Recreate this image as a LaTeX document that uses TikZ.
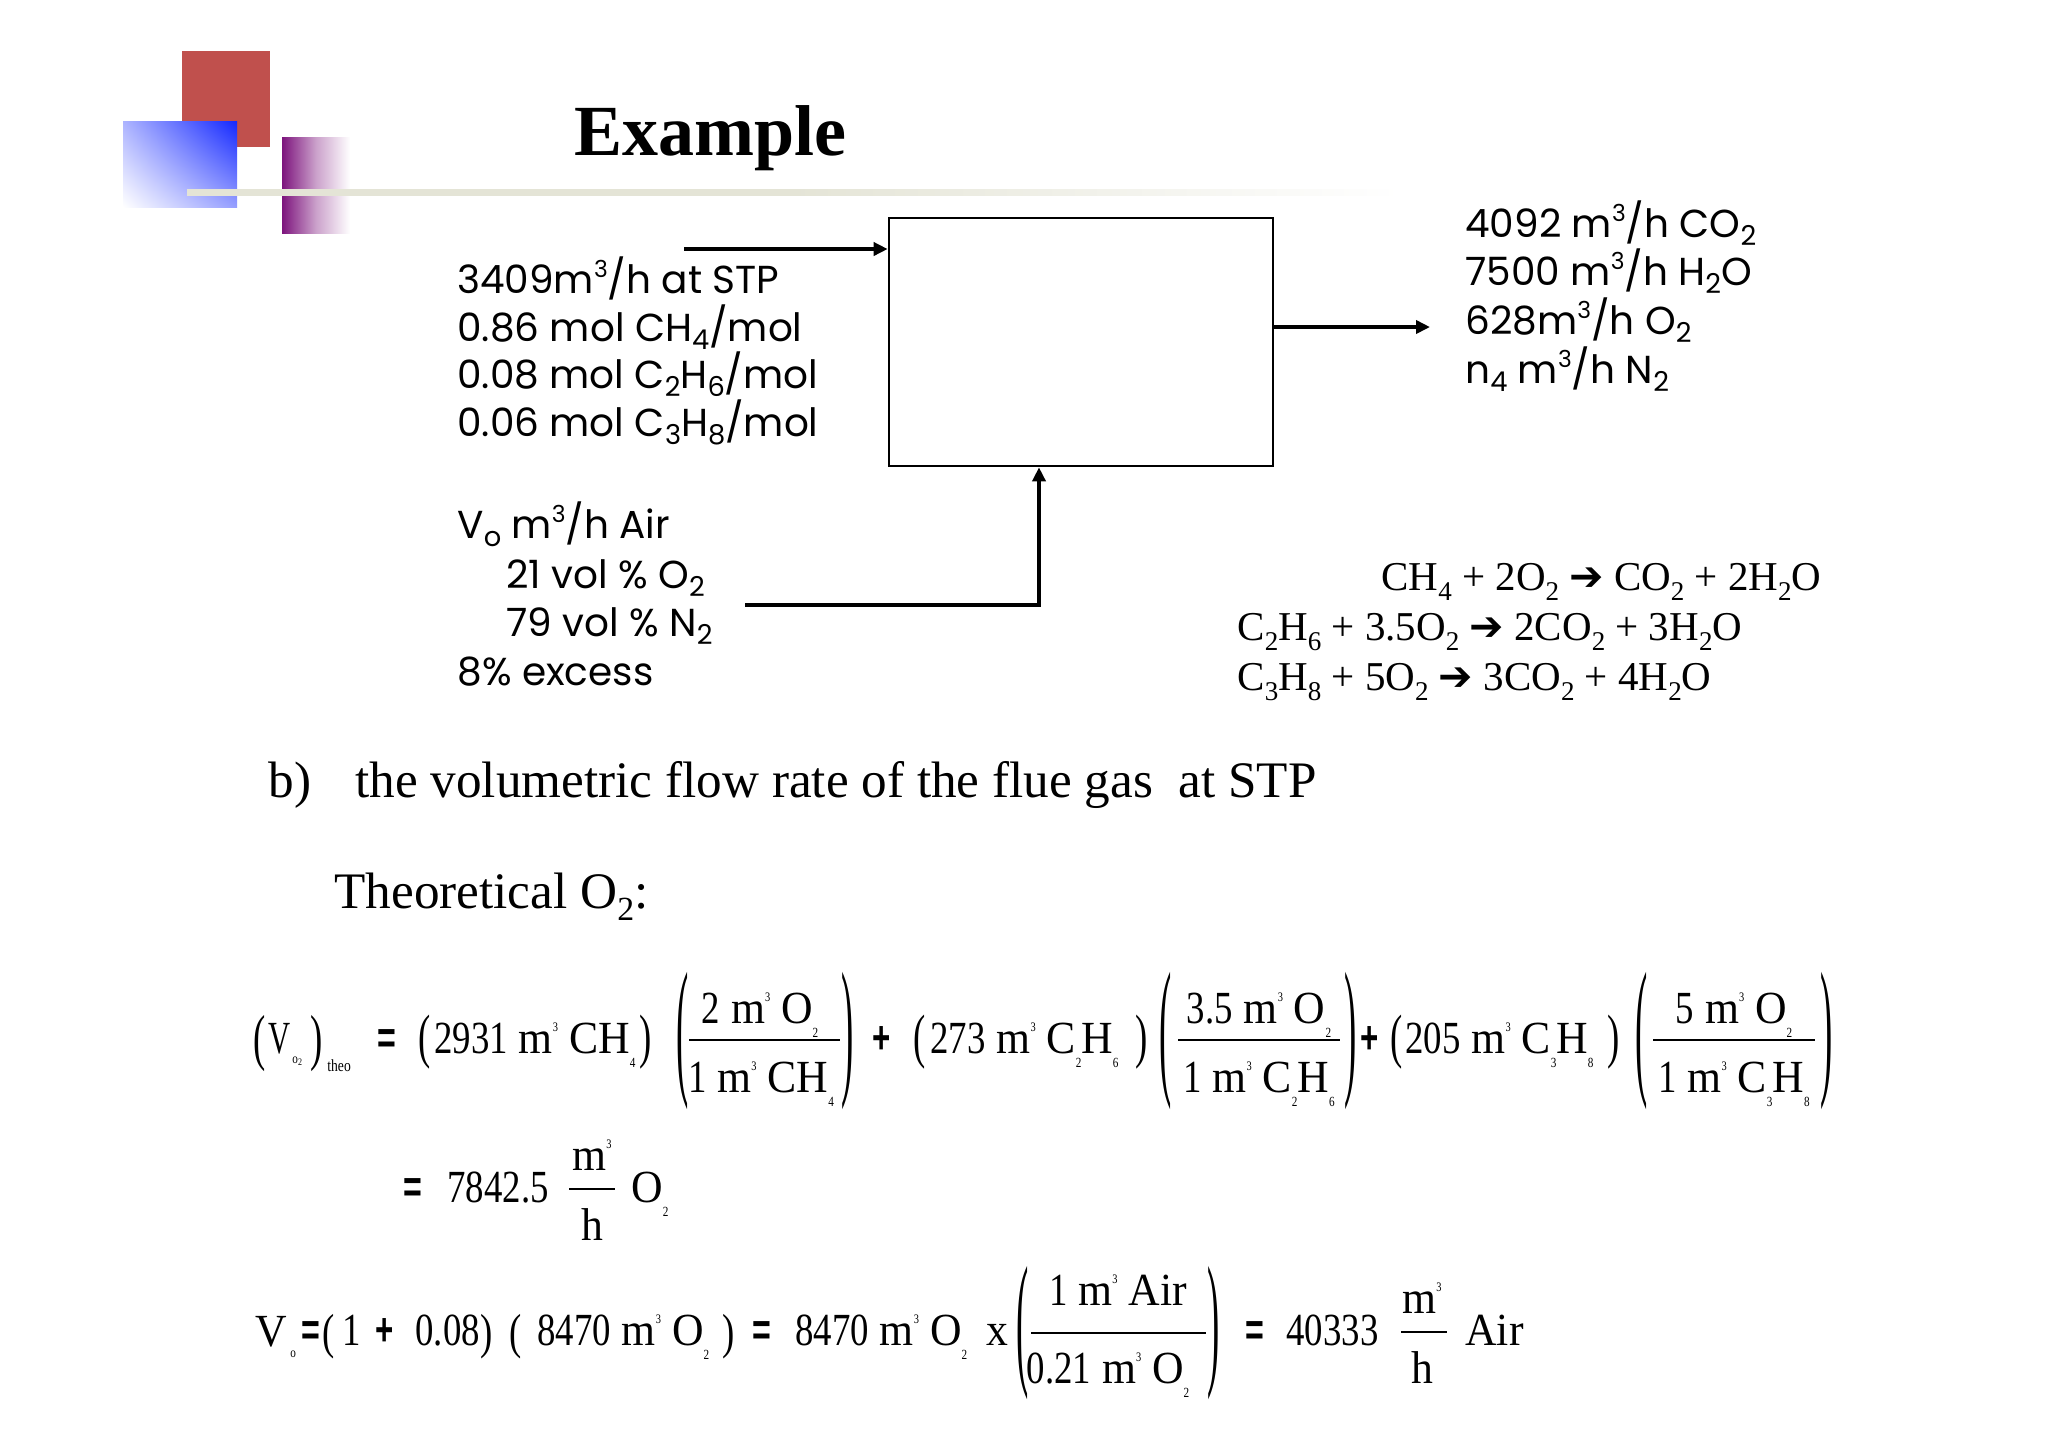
\documentclass[tikz,border=0pt]{standalone}
\usepackage{fontspec}
\usetikzlibrary{arrows.meta,calc,shadings}
\setmainfont{Liberation Serif}
\newfontfamily\comicf{Poppins}
\newfontfamily\eqf[FakeStretch=0.95]{Liberation Serif}
\newfontfamily\eqn[FakeStretch=0.8]{Liberation Serif}
\newfontfamily\symf{Liberation Sans}
\newfontfamily\arwf{DejaVu Sans}
\newcommand\csub[1]{\raisebox{-0.22em}{\scalebox{0.7}{#1}}}
\newcommand\csup[1]{\raisebox{0.4em}{\scalebox{0.6}{#1}}}
\newcommand\rsub[1]{\raisebox{-0.25em}{\scalebox{0.66}{#1}}}
\newcommand\esub[1]{\raisebox{-7pt}{\eqn\fontsize{7}{7}\selectfont #1}}
\newcommand\esup[1]{\raisebox{11pt}{\eqn\fontsize{6.5}{7}\selectfont #1}}
\newcommand\dg[1]{{\eqn #1}}
\newcommand\rarr{{\arwf ➔}}
\newcommand\beq{\scalebox{0.7}[1]{\symf\bfseries =}}
\newcommand\bpl{\scalebox{0.68}[1]{\symf\bfseries +}}
\definecolor{redsq}{RGB}{192,80,77}
\definecolor{bluesq}{RGB}{20,40,255}
\definecolor{purp}{RGB}{125,20,125}
\definecolor{rulec}{RGB}{228,228,214}
\tikzset{
  ctext/.style={anchor=base west, inner sep=0pt, font=\comicf\fontsize{19.5}{22}\selectfont},
  rtext/.style={anchor=base west, inner sep=0pt, font=\fontsize{20.5}{24}\selectfont},
  btext/.style={anchor=base west, inner sep=0pt, font=\fontsize{25.6}{28}\selectfont},
  etext/.style={anchor=base west, inner sep=0pt, font=\eqf\fontsize{23}{26}\selectfont},
  ectr/.style={etext, anchor=base},
  ebold/.style={etext, anchor=base},
  eparen/.style={inner sep=0pt, anchor=center, font=\eqn\fontsize{23}{26}\selectfont},
  fbar/.style={line width=1pt},
  flow/.style={line width=2.2pt, -{Triangle[length=7pt,width=6.5pt]}},
  unitbox/.style={draw, line width=1.3pt, minimum width=192pt, minimum height=124pt, inner sep=0pt}
}
\begin{document}
\begin{tikzpicture}[x=0.5pt, y=-0.5pt]
\useasboundingbox (0,0) rectangle (2048,1448);
\fill[white] (0,0) rectangle (2048,1448);
% decoration
\fill[redsq] (182,51) rectangle (270,147);
\shade[upper right=bluesq, upper left=bluesq!35, lower right=bluesq!45, lower left=white] (123,121) rectangle (237,207);
\shade[left color=purp, right color=white, middle color=purp!40] (282,137) rectangle (350,233);
\shade[left color=rulec, right color=white, middle color=rulec] (187,189) rectangle (1400,195);
% title
\node[anchor=base west, inner sep=0pt, font=\bfseries\fontsize{36}{40}\selectfont] (title) at (574,155) {Example};
% process box
\node[unitbox] (box) at (1081,342) {};
\coordinate (in1) at (684,249);
\coordinate (air) at (745,605);
\coordinate (out) at (1430,327);
\draw[flow] (in1) -- (in1 -| box.west);
\draw[flow] (air) -| ([xshift=-21pt]box.south);
\draw[flow] (box.east |- out) -- (out);
% feed labels
\node[ctext] (f1) at (457,293) {3409m\csup{3}/h at STP};
\node[ctext] (f2) at (457,341) {0.86 mol CH\csub{4}/mol};
\node[ctext] (f3) at (457,388) {0.08 mol C\csub{2}H\csub{6}/mol};
\node[ctext] (f4) at (457,436) {0.06 mol C\csub{3}H\csub{8}/mol};
\node[ctext] (a1) at (457,538) {V\csub{o} m\csup{3}/h Air};
\node[ctext] (a2) at (506,588) {21 vol \% O\csub{2}};
\node[ctext] (a3) at (506,636) {79 vol \% N\csub{2}};
\node[ctext] (a4) at (457,685) {8\% excess};
\node[ctext] (o1) at (1465,237) {4092 m\csup{3}/h CO\csub{2}};
\node[ctext] (o2) at (1465,285) {7500 m\csup{3}/h H\csub{2}O};
\node[ctext] (o3) at (1465,334) {628m\csup{3}/h O\csub{2}};
\node[ctext] (o4) at (1465,383) {n\csub{4} m\csup{3}/h N\csub{2}};
% reactions
\node[rtext] (r1) at (1381,590) {CH\rsub{4} + 2O\rsub{2} \rarr{} CO\rsub{2} + 2H\rsub{2}O};
\node[rtext] (r2) at (1237,640) {C\rsub{2}H\rsub{6} + 3.5O\rsub{2} \rarr{} 2CO\rsub{2} + 3H\rsub{2}O};
\node[rtext] (r3) at (1237,690) {C\rsub{3}H\rsub{8} + 5O\rsub{2} \rarr{} 3CO\rsub{2} + 4H\rsub{2}O};
% question
\node[btext] (qb) at (268,797) {b)};
\node[btext] (qt) at (355,797) {the volumetric flow rate of the flue gas\ \ at STP};
\node[btext] (th) at (334,908) {Theoretical O\rsub{2}:};
% equation line 1
\node[eparen] (p1) at (260,1044) {\scalebox{1}[1.35]{(}};
\node[etext] (v1) at (268,1053) {\scalebox{0.7}[1]{V}};
\node[anchor=base west, inner sep=0pt, font=\eqn\fontsize{7}{7}\selectfont] (v1s) at (292,1063) {o\raisebox{-1pt}{\fontsize{5}{5}\selectfont 2}};
\node[eparen] (p2) at (317,1044) {\scalebox{1}[1.35]{)}};
\node[anchor=base west, inner sep=0pt, font=\eqn\fontsize{8.5}{9}\selectfont] (theo) at (327,1071) {theo};
\node[ebold] (e1) at (387,1053) {\beq};
\node[eparen] (p3) at (425,1042) {\scalebox{1}[1.3]{(}};
\node[etext] (t1) at (434,1053) {\dg{2931} m\esup{3} CH\esub{4}};
\node[eparen] (p4) at (646,1042) {\scalebox{1}[1.3]{)}};
\node[eparen] (P1) at (683,1041) {\scalebox{1}[3.3]{(}};
\node[ectr] (f1n) at (760,1023) {\dg{2} m\esup{3} O\esub{2}};
\draw[fbar] (689,1040) -- (840,1040);
\node[ectr] (f1d) at (761,1092) {\dg{1} m\esup{3} CH\esub{4}};
\node[eparen] (P2) at (848,1041) {\scalebox{1}[3.3]{)}};
\node[ebold] (pl1) at (882,1053) {\bpl};
\node[eparen] (p5) at (920,1042) {\scalebox{1}[1.3]{(}};
\node[etext] (t2) at (930,1053) {\dg{273} m\esup{3} C\esub{2}H\esub{6}};
\node[eparen] (p6) at (1142,1042) {\scalebox{1}[1.3]{)}};
\node[eparen] (P3) at (1166,1041) {\scalebox{1}[3.3]{(}};
\node[ectr] (f2n) at (1259,1023) {\dg{3.5} m\esup{3} O\esub{2}};
\draw[fbar] (1178,1040) -- (1340,1040);
\node[ectr] (f2d) at (1259,1092) {\dg{1} m\esup{3} C\esub{2}H\esub{6}};
\node[eparen] (P4) at (1351,1041) {\scalebox{1}[3.3]{)}};
\node[ebold] (pl2) at (1370,1053) {\bpl};
\node[eparen] (p7) at (1397,1042) {\scalebox{1}[1.3]{(}};
\node[etext] (t3) at (1405,1053) {\dg{205} m\esup{3} C\esub{3}H\esub{8}};
\node[eparen] (p8) at (1614,1042) {\scalebox{1}[1.3]{)}};
\node[eparen] (P5) at (1642,1041) {\scalebox{1}[3.3]{(}};
\node[ectr] (f3n) at (1734,1023) {\dg{5} m\esup{3} O\esub{2}};
\draw[fbar] (1653,1040) -- (1815,1040);
\node[ectr] (f3d) at (1734,1092) {\dg{1} m\esup{3} C\esub{3}H\esub{8}};
\node[eparen] (P6) at (1827,1041) {\scalebox{1}[3.3]{)}};
% equation line 2
\node[ebold] (e2) at (413,1202) {\beq};
\node[etext] (t4) at (447,1202) {\dg{7842.5}};
\node[ectr] (f4n) at (592,1170) {m\esup{3}};
\draw[fbar] (569,1189) -- (615,1189);
\node[ectr] (f4d) at (592,1240) {h};
\node[etext] (t5) at (631,1202) {O\esub{2}};
% equation line 3
\node[etext] (v3) at (255,1346) {V};
\node[anchor=base west, inner sep=0pt, font=\eqn\fontsize{7}{7}\selectfont] (v3s) at (290,1357) {o};
\node[ebold] (e3) at (311,1345) {\beq};
\node[eparen] (p9) at (329,1337) {\scalebox{1}[1.07]{(}};
\node[etext] (t6) at (342,1345) {\dg{1}};
\node[ebold] (pl3) at (385,1345) {\bpl};
\node[etext] (t7) at (415,1345) {\dg{0.08}};
\node[eparen] (p10) at (487,1337) {\scalebox{1}[1.07]{)}};
\node[eparen] (p11) at (516,1337) {\scalebox{1}[1.07]{(}};
\node[etext] (t8) at (537,1345) {\dg{8470} m\esup{3} O\esub{2}};
\node[eparen] (p12) at (729,1337) {\scalebox{1}[1.07]{)}};
\node[ebold] (e4) at (762,1345) {\beq};
\node[etext] (t9) at (795,1345) {\dg{8470} m\esup{3} O\esub{2}};
\node[etext] (t10) at (986,1345) {x};
\node[eparen] (P7) at (1023,1333) {\scalebox{1}[3.2]{(}};
\node[ectr] (f5n) at (1118,1305) {\dg{1} m\esup{3} Air};
\draw[fbar] (1031,1333) -- (1206,1333);
\node[ectr] (f5d) at (1108,1383) {\dg{0.21} m\esup{3} O\esub{2}};
\node[eparen] (P8) at (1214,1333) {\scalebox{1}[3.2]{)}};
\node[ebold] (e5) at (1255,1345) {\beq};
\node[etext] (t11) at (1286,1345) {\dg{40333}};
\node[ectr] (f6n) at (1422,1313) {m\esup{3}};
\draw[fbar] (1401,1332) -- (1447,1332);
\node[ectr] (f6d) at (1422,1383) {h};
\node[etext] (t12) at (1465,1345) {Air};
\end{tikzpicture}
\end{document}
